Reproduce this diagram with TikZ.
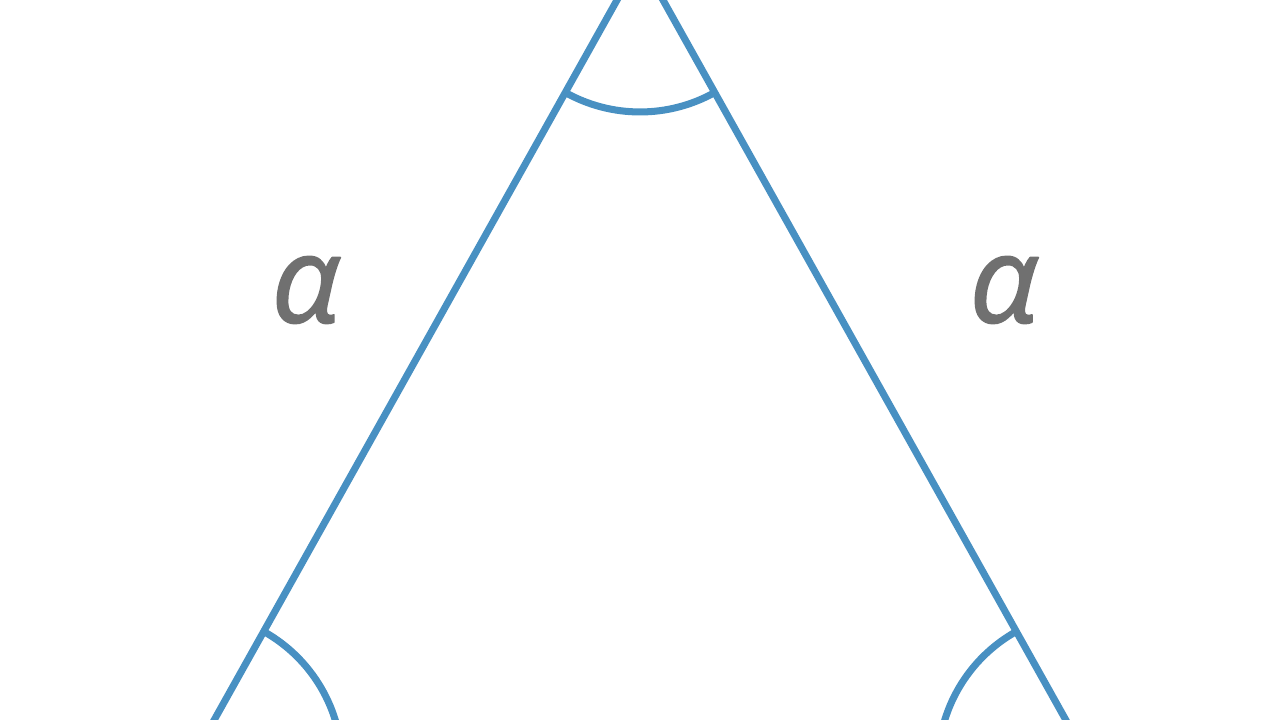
\documentclass[tikz,border=0pt]{standalone}
\usepackage{fontspec}
\setmainfont{Open Sans}
\newfontfamily\alphafont[FakeBold=1.4]{Open Sans}
\usepackage{tikz}
\usetikzlibrary{angles, positioning}
\definecolor{sideblue}{RGB}{72,144,194}
\definecolor{labelgray}{RGB}{112,112,112}

\begin{document}
\begin{tikzpicture}[line join=round]
    \tikzstyle{side}=[draw=sideblue, line width=2pt]
    \tikzstyle{arcmark}=[draw=sideblue, line width=2pt, angle radius=1.53cm]
    \tikzstyle{letter}=[text=labelgray, font=\alphafont\fontsize{34.5}{40}\selectfont\itshape]

    \useasboundingbox (0,0) rectangle (12.8,7.2);

    \coordinate (A) at (6.40,7.61);
    \coordinate (B) at (1.89,-0.45);
    \coordinate (C) at (10.91,-0.45);

    \node[letter] (L) at (3.06,4.30) {α};
    \node[letter] (R) at (10.04,4.30) {α};

    \path[side] (B) -- (A) -- (C);

    \path pic[arcmark] {angle=B--A--C}
          pic[arcmark] {angle=C--B--A}
          pic[arcmark] {angle=A--C--B};
\end{tikzpicture}
\end{document}
